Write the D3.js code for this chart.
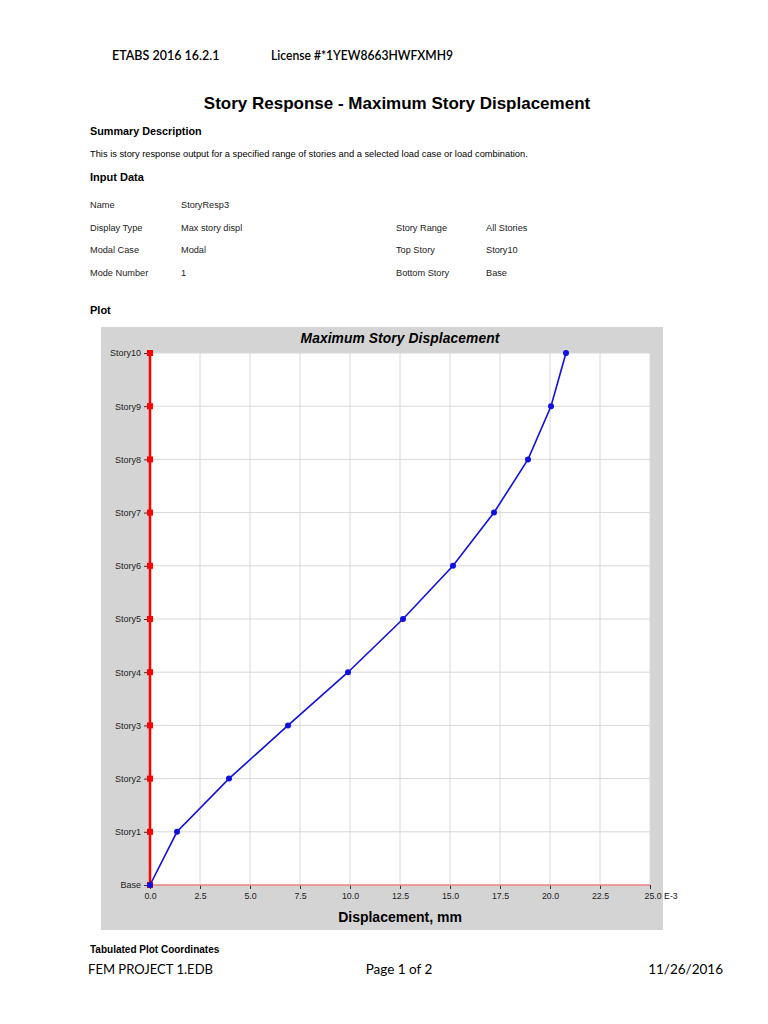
<!DOCTYPE html>
<html>
<head>
<meta charset="utf-8">
<script src="https://cdn.jsdelivr.net/npm/d3@7"></script>
<style>
  body { margin:0; background:#fff; }
  svg text { font-family: "Liberation Sans", Arial, sans-serif; }
</style>
</head>
<body>
<script>
// story labels, bottom to top
var stories = ["Base","Story1","Story2","Story3","Story4","Story5","Story6","Story7","Story8","Story9","Story10"];
// max story displacement, E-3 mm
var displ = [0, 1.35, 3.95, 6.9, 9.9, 12.65, 15.15, 17.2, 18.9, 20.05, 20.8];
var xTicks = [0, 2.5, 5, 7.5, 10, 12.5, 15, 17.5, 20, 22.5, 25];

var inputRows = [
  ["Name","StoryResp3","",""],
  ["Display Type","Max story displ","Story Range","All Stories"],
  ["Modal Case","Modal","Top Story","Story10"],
  ["Mode Number","1","Bottom Story","Base"]
];

var svg = d3.select("body").append("svg")
  .attr("width",768).attr("height",1024);

var hdrFont = "Lato, 'Open Sans', sans-serif";

// page header
svg.append("text").attr("x",112).attr("y",60).text("ETABS 2016 16.2.1")
  .style("font-family",hdrFont).attr("font-size","12.5px").attr("font-weight","600");
svg.append("text").attr("x",271).attr("y",60).text("License #*1YEW8663HWFXMH9")
  .style("font-family",hdrFont).attr("font-size","12.5px").attr("font-weight","600")
  .attr("textLength",182).attr("lengthAdjust","spacingAndGlyphs");

svg.append("text").attr("x",397).attr("y",109).attr("text-anchor","middle")
  .text("Story Response - Maximum Story Displacement")
  .attr("font-size","17px").attr("font-weight","bold");

svg.append("text").attr("x",90).attr("y",135).text("Summary Description")
  .attr("font-size","10.8px").attr("font-weight","bold");
svg.append("text").attr("x",90).attr("y",157)
  .text("This is story response output for a specified range of stories and a selected load case or load combination.")
  .attr("font-size","9.3px");
svg.append("text").attr("x",90).attr("y",181).text("Input Data")
  .attr("font-size","11px").attr("font-weight","bold");

var colX = [90,181,396,486];
inputRows.forEach(function(r,i){
  r.forEach(function(t,j){
    if(t=="") return;
    svg.append("text").attr("x",colX[j]).attr("y",208+i*22.5).text(t)
      .attr("font-size","9.2px").attr("fill","#222");
  });
});
svg.append("text").attr("x",90).attr("y",314).text("Plot")
  .attr("font-size","11px").attr("font-weight","bold");

// chart panel
svg.append("rect").attr("x",101).attr("y",327).attr("width",562).attr("height",603)
  .style("fill","#d4d4d4");

var x = d3.scaleLinear().domain([0,25]).range([150,650]);
var y = d3.scalePoint().domain(stories).range([885,353]);

svg.append("rect").attr("x",150).attr("y",353).attr("width",500).attr("height",532)
  .style("fill","#fff");

// grid
svg.append("g").selectAll("line").data(xTicks.slice(1)).enter().append("line")
  .attr("x1",d=>x(d)).attr("x2",d=>x(d)).attr("y1",353).attr("y2",885)
  .style("stroke","#d8d8d8").style("stroke-width",1);
svg.append("g").selectAll("line").data(stories.slice(1)).enter().append("line")
  .attr("x1",150).attr("x2",650).attr("y1",d=>y(d)).attr("y2",d=>y(d))
  .style("stroke","#d8d8d8").style("stroke-width",1);

// x axis
var xAxis = svg.append("g").attr("transform","translate(0,885)")
  .call(d3.axisBottom(x).tickValues(xTicks).tickSize(4).tickPadding(4)
    .tickFormat(function(d){ return d==25 ? "25.0 E-3" : d3.format(".1f")(d); }));
xAxis.select(".domain").remove();
xAxis.selectAll("line").style("stroke","#333");
xAxis.selectAll("text").attr("font-size","8.8px").attr("fill","#222")
  .style("font-family","'Liberation Sans', Arial, sans-serif");
xAxis.selectAll(".tick").filter(d=>d==25).select("text").attr("text-anchor","start").attr("dx","-6");
svg.append("line").attr("x1",150).attr("x2",650).attr("y1",885).attr("y2",885)
  .style("stroke","#f08080").style("stroke-width",1.5);

// y axis
var yAxis = svg.append("g").attr("transform","translate(150,0)")
  .call(d3.axisLeft(y).tickSize(6).tickPadding(3));
yAxis.select(".domain").remove();
yAxis.selectAll("line").style("stroke","#333");
yAxis.selectAll("text").attr("font-size","9px").attr("fill","#222")
  .style("font-family","'Liberation Sans', Arial, sans-serif");

svg.append("line").attr("x1",150).attr("x2",150).attr("y1",y("Story10")).attr("y2",y("Base"))
  .style("stroke","#f00").style("stroke-width",2.5);
svg.append("g").selectAll("rect").data(stories).enter().append("rect")
  .attr("x",147).attr("y",d=>y(d)-3).attr("width",6).attr("height",6)
  .style("fill","#f00");

// data line
var pts = stories.map(function(s,i){ return {s:s, v:displ[i]}; });
svg.append("path").datum(pts)
  .attr("d", d3.line().x(d=>x(d.v)).y(d=>y(d.s)))
  .style("fill","none").style("stroke","#1010e0").style("stroke-width",1.6);
svg.append("g").selectAll("circle").data(pts).enter().append("circle")
  .attr("cx",d=>x(d.v)).attr("cy",d=>y(d.s)).attr("r",3)
  .style("fill","#1010e0");

// titles
svg.append("text").attr("x",400).attr("y",343).attr("text-anchor","middle")
  .text("Maximum Story Displacement")
  .attr("font-size","13.8px").attr("font-weight","bold").attr("font-style","italic")
  .attr("letter-spacing","0.1px");
svg.append("text").attr("x",400).attr("y",922).attr("text-anchor","middle")
  .text("Displacement, mm")
  .attr("font-size","14px").attr("font-weight","bold");

// footer
svg.append("text").attr("x",90).attr("y",953).text("Tabulated Plot Coordinates")
  .attr("font-size","10px").attr("font-weight","bold");
svg.append("text").attr("x",88).attr("y",974).text("FEM PROJECT 1.EDB")
  .style("font-family",hdrFont).attr("font-size","13.5px")
  .attr("textLength",125).attr("lengthAdjust","spacingAndGlyphs");
svg.append("text").attr("x",399).attr("y",974).attr("text-anchor","middle").text("Page 1 of 2")
  .style("font-family",hdrFont).attr("font-size","13.5px");
svg.append("text").attr("x",723).attr("y",974).attr("text-anchor","end").text("11/26/2016")
  .style("font-family",hdrFont).attr("font-size","13.5px");
</script>
</body>
</html>
